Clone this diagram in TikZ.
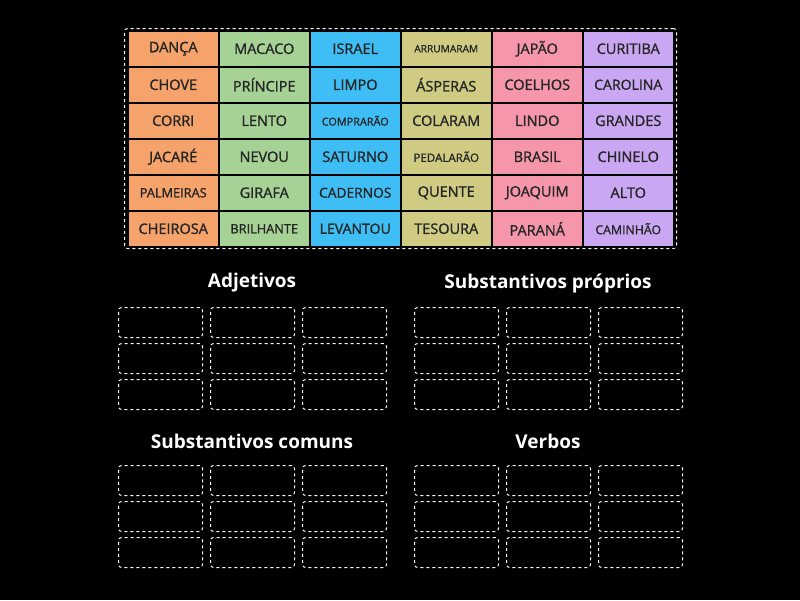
\documentclass[tikz,border=0pt]{standalone}
\usepackage{fontspec}
\setmainfont{Open Sans}
\newfontfamily\cellfont[FakeBold=1.3]{Open Sans}
\begin{document}
\begin{tikzpicture}[x=1pt,y=-1pt,
 cell/.style={draw=black,line width=1.5pt,minimum width=91pt,minimum height=36pt,inner sep=0pt,font=\cellfont\fontsize{14.5}{15}\selectfont,text=black!85,anchor=north west},
 slot/.style={draw=white,dashed,line width=1pt,rounded corners=3pt,minimum width=84pt,minimum height=30pt,anchor=north west},
 title/.style={text=white,font=\bfseries\fontsize{19}{20}\selectfont}]
\fill[black] (0,0) rectangle (800,600);
\useasboundingbox (0,0) rectangle (800,600);
\definecolor{c1}{HTML}{F5A26B}\definecolor{c2}{HTML}{A6D296}\definecolor{c3}{HTML}{3EBEF5}
\definecolor{c4}{HTML}{CFCB82}\definecolor{c5}{HTML}{F696AA}\definecolor{c6}{HTML}{CAA7F3}
\node[draw=white,dashed,line width=1pt,rounded corners=3pt,minimum width=552pt,minimum height=220pt,anchor=north west] (frame) at (124,28) {};
\foreach \r/\a/\b/\c/\d/\e/\f/\sc/\sd/\sa/\sb/\sf in {
 0/DANÇA/MACACO/ISRAEL/ARRUMARAM/JAPÃO/CURITIBA/1/0.7/1/1/1,
 1/CHOVE/PRÍNCIPE/LIMPO/ÁSPERAS/COELHOS/CAROLINA/1/1/1/1/0.97,
 2/CORRI/LENTO/COMPRARÃO/COLARAM/LINDO/GRANDES/0.75/1/1/1/1,
 3/JACARÉ/NEVOU/SATURNO/PEDALARÃO/BRASIL/CHINELO/1/0.8/1/1/1,
 4/PALMEIRAS/GIRAFA/CADERNOS/QUENTE/JOAQUIM/ALTO/0.95/1/0.88/1/1,
 5/CHEIROSA/BRILHANTE/LEVANTOU/TESOURA/PARANÁ/CAMINHÃO/0.97/1/1/0.88/0.85}{
 \node[cell,fill=c1] (a\r) at (127,30+36*\r) {\scalebox{\sa}{\a}};
 \node[cell,fill=c2] (b\r) at (218,30+36*\r) {\scalebox{\sb}{\b}};
 \node[cell,fill=c3] (c\r) at (309,30+36*\r) {\scalebox{\sc}{\c}};
 \node[cell,fill=c4] (d\r) at (400,30+36*\r) {\scalebox{\sd}{\d}};
 \node[cell,fill=c5] (e\r) at (491,30+36*\r) {\e};
 \node[cell,fill=c6] (f\r) at (582,30+36*\r) {\scalebox{\sf}{\f}};
}
\node[title] (t1) at (252,283) {Adjetivos};
\node[title] (t2) at (548,283) {Substantivos próprios};
\node[title] (t3) at (252,441) {Substantivos comuns};
\node[title] (t4) at (548,441) {Verbos};
\foreach \gx/\gy/\g in {118/307/A,414/307/B,118/465/C,414/465/D}
 \foreach \i in {0,1,2} \foreach \j in {0,1,2}
  \node[slot] (s\g\i\j) at (\gx+92*\i,\gy+36*\j) {};
\end{tikzpicture}
\end{document}
